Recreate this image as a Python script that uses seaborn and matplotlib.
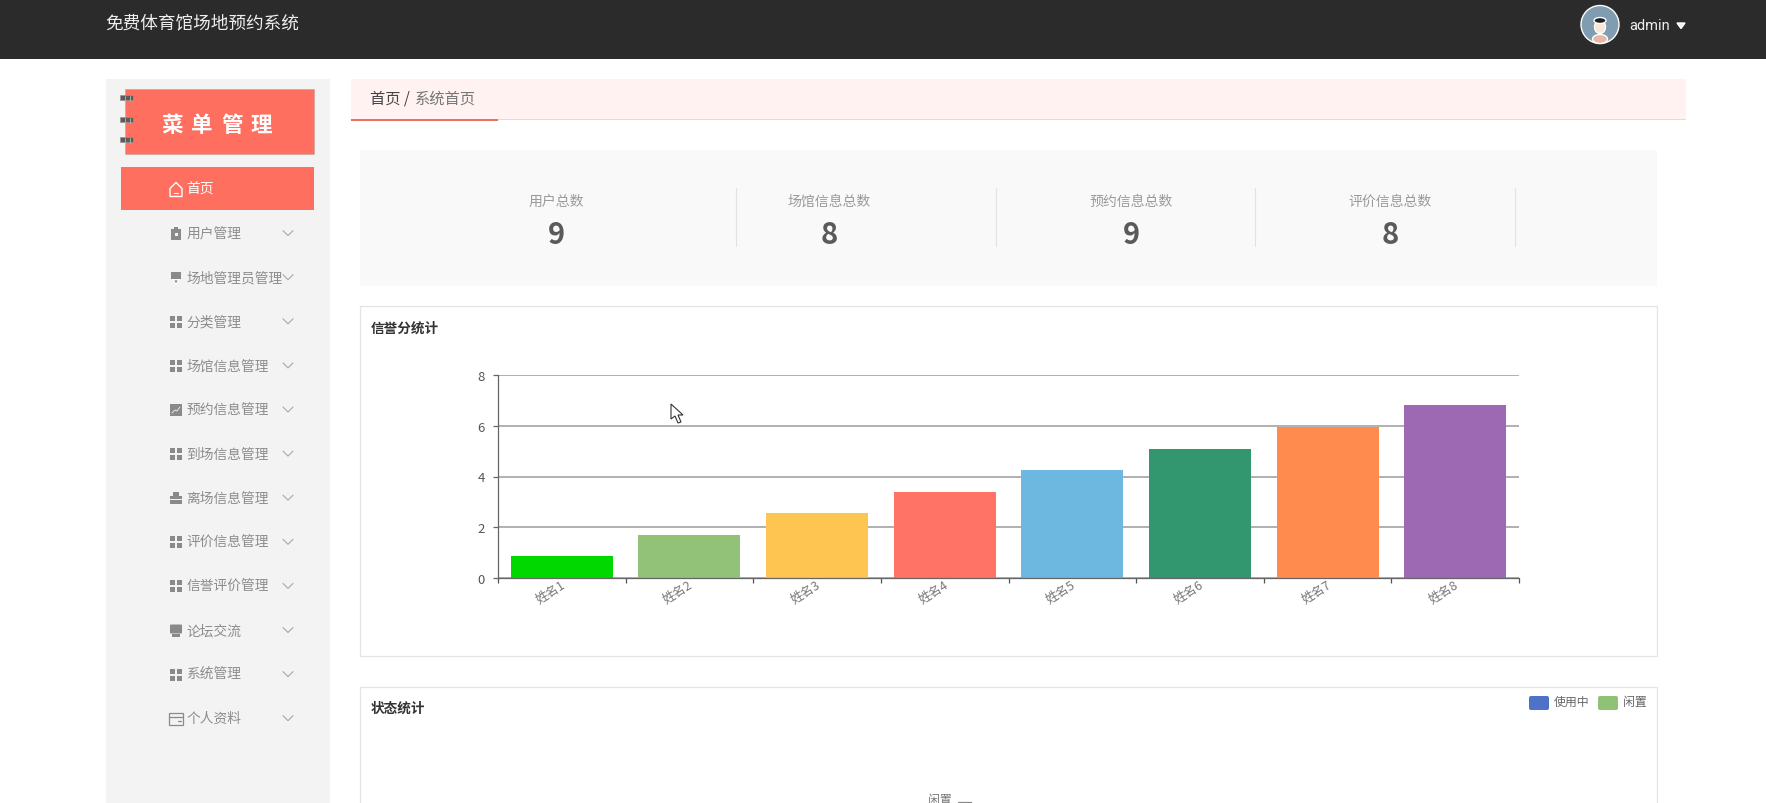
import numpy as np
import pandas as pd
import matplotlib
matplotlib.use("Agg")
import matplotlib.pyplot as plt
from matplotlib.patches import Rectangle, Circle, Polygon, FancyBboxPatch, Ellipse
from matplotlib.transforms import ScaledTranslation
import seaborn as sns

# ---- data ----
names = ["姓名1", "姓名2", "姓名3", "姓名4", "姓名5", "姓名6", "姓名7", "姓名8"]
scores = [0.85, 1.7, 2.55, 3.4, 4.25, 5.1, 5.95, 6.8]
bar_colors = ["#00d800", "#91c278", "#ffc551", "#ff7266", "#6cb8e0", "#32966f", "#ff8c4e", "#9d69b2"]
y_ticks = [0, 2, 4, 6, 8]

menu_items = ["首页", "用户管理", "场地管理员管理", "分类管理", "场馆信息管理", "预约信息管理", "到场信息管理",
              "离场信息管理", "评价信息管理", "信誉评价管理", "论坛交流", "系统管理", "个人资料"]
menu_icons = ["home", "clip", "stamp", "grid", "grid", "chart", "grid", "case", "grid", "grid", "store", "grid", "card"]
stat_labels = ["用户总数", "场馆信息总数", "预约信息总数", "评价信息总数"]
stat_values = ["9", "8", "9", "8"]
legend_labels = ["使用中", "闲置"]
legend_colors = ["#4f72c9", "#8fc177"]

sns.set_theme(style="white")
plt.rcParams["font.family"] = ["Noto Sans CJK SC", "DejaVu Sans"]

W, H = 1766, 804
fig = plt.figure(figsize=(W / 100, H / 100), dpi=100, facecolor="white")

bg = fig.add_axes([0, 0, 1, 1], zorder=1)
bg.set_xlim(0, W)
bg.set_ylim(H - 1, -1)
bg.axis("off")


def rect(x0, y0, x1, y1, fc, ec="none", lw=0, z=1):
    bg.add_patch(Rectangle((x0, y0), x1 - x0, y1 - y0, facecolor=fc, edgecolor=ec, linewidth=lw, zorder=z))


def label(x, y, s, size, color, ha="left", weight="normal", z=5, family=None):
    kw = {"family": family} if family else {}
    bg.text(x, y, s, fontsize=size, color=color, ha=ha, va="center", fontweight=weight, zorder=z, **kw)


# header
rect(0, -2, W, 58.5, "#2b2b2b")
label(105, 22.5, "免费体育馆场地预约系统", 12.7, "#eeeeee")
bg.add_patch(Circle((1600, 24.5), 19, facecolor="#7f9cb0", zorder=3))
bg.add_patch(Ellipse((1600, 39), 15, 9, facecolor="#e9b7a8", zorder=4))
bg.add_patch(Ellipse((1600, 27), 11, 13, facecolor="#f6e6dc", zorder=4))
bg.add_patch(Ellipse((1600, 20.5), 12, 6, facecolor="#1f1f1f", zorder=5))
label(1629, 24.5, "admin", 10.5, "#eeeeee", family="Roboto")
bg.add_patch(Polygon([[1677, 23], [1685, 23], [1681, 28.5]], facecolor="#eeeeee", zorder=4))

# sidebar
rect(106, 78.5, 330, H + 2, "#f3f3f3")
rect(125, 88.5, 314, 153.5, "#ff6f5f", ec="#b9a3a0", lw=0.4, z=2)
for ry in [98, 120, 140]:
    bg.add_patch(FancyBboxPatch((121, ry - 2), 12, 4, boxstyle="round,pad=0.6", facecolor="#5c5c5c",
                                edgecolor="#999999", linewidth=0.5, zorder=3))
    for rx in (124.5, 129.5):
        bg.plot([rx, rx], [ry - 2.5, ry + 2.5], color="#b5b5b5", lw=0.6, zorder=4)
for cx, ch in zip([172, 202, 232, 261], "菜单管理"):
    label(cx, 124.5, ch, 15.5, "white", ha="center", weight="bold")
rect(121, 166.5, 314, 209.5, "#ff6f5f", z=2)


def icon(kind, x, y, color):
    if kind == "grid":
        for dx in (-6, 1):
            for dy in (-6, 1):
                rect(x + dx, y + dy, x + dx + 5, y + dy + 5, color, z=4)
    elif kind == "home":
        bg.add_patch(Polygon([[x - 6, y - 1], [x, y - 7], [x + 6, y - 1], [x + 6, y + 7], [x - 6, y + 7]],
                             closed=True, fill=False, edgecolor=color, linewidth=1, zorder=4))
        bg.plot([x - 2, x + 2], [y + 3, y + 3], color=color, lw=0.8, zorder=4)
    elif kind == "clip":
        rect(x - 5, y - 5, x + 5, y + 6, color, z=4)
        rect(x - 2, y - 7, x + 2, y - 4, color, z=4)
        rect(x - 1.5, y - 1, x + 1.5, y + 2, "#f3f3f3", z=5)
    elif kind == "stamp":
        rect(x - 5, y - 6, x + 5, y + 1, color, z=4)
        bg.add_patch(Polygon([[x - 3, y + 2], [x + 3, y + 2], [x, y + 7]], facecolor=color, zorder=4))
    elif kind == "chart":
        rect(x - 6, y - 6, x + 6, y + 6, color, z=4)
        bg.plot([x - 4, x - 1, x + 1, x + 4], [y + 3, y, y + 1, y - 3], color="#f3f3f3", lw=0.6, zorder=5)
    elif kind == "case":
        rect(x - 6, y - 2, x + 6, y + 6, color, z=4)
        rect(x - 3, y - 6, x + 3, y - 2, color, z=4)
        rect(x - 6, y + 1, x + 6, y + 2, "#f3f3f3", z=5)
    elif kind == "store":
        bg.add_patch(FancyBboxPatch((x - 5, y - 5), 10, 7, boxstyle="round,pad=1", facecolor=color,
                                    edgecolor="none", zorder=4))
        rect(x - 4, y + 3, x + 4, y + 6, color, z=4)
    elif kind == "card":
        bg.add_patch(Rectangle((x - 7, y - 6), 14, 12, fill=False, edgecolor=color, linewidth=0.9, zorder=4))
        bg.plot([x - 7, x + 7], [y - 2, y - 2], color=color, lw=0.9, zorder=4)
        bg.plot([x + 2, x + 5], [y + 2, y + 2], color=color, lw=0.9, zorder=4)


for i, (item, kind) in enumerate(zip(menu_items, menu_icons)):
    yy = 189.5 + 44.1 * i
    active = i == 0
    col = "white" if active else "#8c8c8c"
    icon(kind, 176, yy, "white" if active else "#8a8a8a")
    label(186.5, yy - 0.5, item, 9.9, col)
    if not active:
        bg.plot([283, 288, 293], [yy - 3, yy + 2, yy - 3], color="#a8a8a8", lw=0.8, zorder=4)

# breadcrumb
rect(351, 78.5, 1686, 118.5, "#fff2f1")
rect(351, 118.5, 1686, 120, "#dddddd", z=2)
rect(351, 118.5, 498, 120.5, "#e8715f", z=3)
label(370.5, 98, "首页 /", 11, "#444444")
label(415, 98, "系统首页", 11, "#777777")

# stats band
rect(360, 149.5, 1657, 285.5, "#f9f9f9")
for xd in [736, 995.5, 1254.5, 1514.5]:
    bg.plot([xd, xd], [188, 246], color="#e2e2e2", lw=0.8, zorder=3)
for cx, lb, val in zip([556, 829, 1131, 1390.5], stat_labels, stat_values):
    label(cx, 200.5, lb, 10, "#9a9a9a", ha="center")
    label(cx, 234, val, 21, "#5a5a5a", ha="center", weight="bold")

# cards
for top_y, bottom_y in [(305.5, 656), (686.5, 830)]:
    bg.add_patch(Rectangle((360, top_y), 1296.5, bottom_y - top_y, facecolor="white", edgecolor="#e4e4e4",
                           linewidth=0.9, zorder=1))
label(370.5, 327.5, "信誉分统计", 9.8, "#333333", weight="bold")
label(371, 707.5, "状态统计", 9.8, "#333333", weight="bold")

# status legend and visible pie label
lx = [1529, 1598]
tx = [1554, 1623]
for x0_, t, lb, c in zip(lx, tx, legend_labels, legend_colors):
    bg.add_patch(FancyBboxPatch((x0_ + 2, 698), 16, 10, boxstyle="round,pad=2", facecolor=c, edgecolor="none", zorder=3))
    label(t, 701.5, lb, 8.6, "#666666")
label(928, 799.5, legend_labels[1], 8.6, "#777777")
bg.plot([958, 971, 971], [801.5, 801.5, 805], color="#888888", lw=0.9, zorder=3)

# bar chart
x0, x1, ytop, ybot = 498, 1519, 376, 579
ax = fig.add_axes([x0 / W, (H - ybot) / H, (x1 - x0) / W, (ybot - ytop) / H], zorder=2)
ax.patch.set_alpha(0)
df = pd.DataFrame({"name": names, "score": scores})
sns.barplot(data=df, x="name", y="score", hue="name", palette=bar_colors, legend=False,
            saturation=1, width=0.8, linewidth=0, ax=ax)
ax.set_xlim(-0.5, len(names) - 0.5)
ax.set_ylim(y_ticks[0], y_ticks[-1])
ax.set_xlabel("")
ax.set_ylabel("")
ax.set_yticks(y_ticks)
ax.set_axisbelow(True)
ax.grid(axis="y", color="#b0b0b0", linewidth=1.4)
ax.grid(axis="x", visible=False)
sns.despine(ax=ax)
for s in ("left", "bottom"):
    ax.spines[s].set_color("#666666")
    ax.spines[s].set_linewidth(0.9)
ax.set_xticks(np.arange(len(names)))
ax.set_xticklabels(names, rotation=32, ha="right", rotation_mode="anchor", fontsize=9, color="#777777")
ax.set_xticks(np.arange(-0.5, len(names)), minor=True)
ax.tick_params(axis="x", which="major", length=0, pad=0)
ax.tick_params(axis="x", which="minor", length=3.5, width=0.9, color="#555555", bottom=True)
ax.tick_params(axis="y", length=3.5, width=0.9, color="#666666", labelsize=9.5, labelcolor="#555555", pad=6, left=True)
shift = ScaledTranslation(-1 / 72, 0.5 / 72, fig.dpi_scale_trans)
for t in ax.get_xticklabels():
    t.set_transform(t.get_transform() + shift)

# mouse pointer over the chart
top = fig.add_axes([0, 0, 1, 1], zorder=3)
top.set_xlim(0, W)
top.set_ylim(H - 1, -1)
top.axis("off")
top.add_patch(Polygon([[671, 404], [671, 419], [675, 416], [678, 423], [681, 422], [678, 415], [683, 415]],
                      closed=True, facecolor="white", edgecolor="#333333", linewidth=0.8))

fig.savefig("out.png", dpi=100, facecolor="white")
